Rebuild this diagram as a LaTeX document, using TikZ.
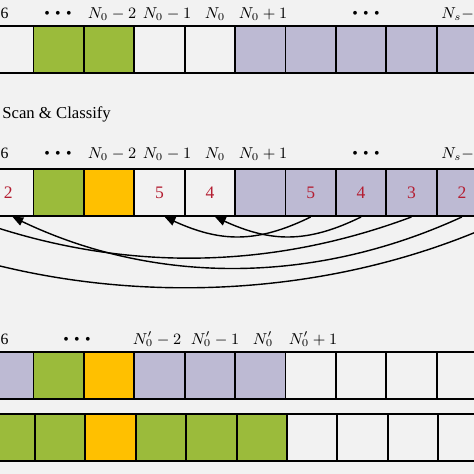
\documentclass[tikz,border=0pt]{standalone}
\usepackage{fontspec}
\setmainfont{Liberation Serif}
\usetikzlibrary{arrows.meta}
\definecolor{bggray}{RGB}{242,242,242}
\definecolor{cgreen}{RGB}{155,187,59}
\definecolor{corange}{RGB}{255,192,0}
\definecolor{cpurple}{RGB}{189,186,211}
\definecolor{cred}{RGB}{180,30,50}
\begin{document}
\begin{tikzpicture}[x=0.02cm,y=0.02cm,
  cell/.style={draw,line width=1.1pt,fill=bggray,minimum width=1.008cm,minimum height=0.94cm,inner sep=0pt,text=cred,font=\fontsize{10}{12}\selectfont},
  lab/.style={anchor=base,inner sep=0pt,font=\fontsize{9}{11}\selectfont},
  conn/.style={-{Triangle[length=6pt,width=5pt]},line width=0.8pt}]
\useasboundingbox[fill=bggray] (0,0) rectangle (474,474);
\clip (0,0) rectangle (474,474);
\foreach \i/\col in {0/bggray,1/cgreen,2/cgreen,3/bggray,4/bggray,5/cpurple,6/cpurple,7/cpurple,8/cpurple,9/cpurple}
  \node[cell,fill=\col] (a\i) at (8.3+50.4*\i,424.5) {};
\foreach \i/\col/\lbl in {0/bggray/2,1/cgreen/,2/corange/,3/bggray/5,4/bggray/4,5/cpurple/,6/cpurple/5,7/cpurple/4,8/cpurple/3,9/cpurple/2}
  \node[cell,fill=\col] (b\i) at (8.3+50.4*\i,281.5) {\lbl};
\foreach \i/\col in {0/cpurple,1/cgreen,2/corange,3/cpurple,4/cpurple,5/cpurple,6/bggray,7/bggray,8/bggray,9/bggray}
  \node[cell,fill=\col] (c\i) at (8.3+50.4*\i,98.5) {};
\foreach \i/\col in {0/cgreen,1/cgreen,2/corange,3/cgreen,4/cgreen,5/cgreen,6/bggray,7/bggray,8/bggray,9/bggray}
  \node[cell,fill=\col] (d\i) at (9.8+50.4*\i,36.5) {};
\foreach \y in {455,315} {
  \node[lab] at (4.5,\y) {6};
  \node[lab] at (58,\y) {\textbullet\,\,\textbullet\,\,\textbullet};
  \node[lab] at (112,\y) {$N_0-2$};
  \node[lab] at (167,\y) {$N_0-1$};
  \node[lab] at (215,\y) {$N_0$};
  \node[lab] at (263,\y) {$N_0+1$};
  \node[lab] at (366,\y) {\textbullet\,\,\textbullet\,\,\textbullet};
  \node[lab,anchor=base west] at (441,\y) {$N_s{-}$};
}
\node[lab,anchor=base west,font=\fontsize{9.5}{11}\selectfont] (scan) at (2,355) {Scan \& Classify};
\node[lab] at (4.5,130) {6};
\node[lab] at (77,130) {\textbullet\,\,\textbullet\,\,\textbullet};
\node[lab] at (157,130) {$N_0'-2$};
\node[lab] at (215,130) {$N_0'-1$};
\node[lab] at (263,130) {$N_0'$};
\node[lab] at (313,130) {$N_0'+1$};
\coordinate (bm1) at (-37,258);
\coordinate (bm3) at (-140,258);
\coordinate (b10) at (512,258);
\draw[conn] (b6.south) .. controls +(-55,-27) and +(55,-25) .. (b3.-78);
\draw[conn] (b7.south) .. controls +(-55,-27) and +(55,-25) .. (b4.-78);
\draw[conn] (b8.south) .. controls +(-150,-56) and +(150,-54) .. (bm1);
\draw[conn] (b9.south) .. controls +(-150,-69) and +(140,-67) .. (b0.-80);
\draw[conn] (b10) .. controls +(-200,-96) and +(200,-94) .. (bm3);
\end{tikzpicture}
\end{document}
